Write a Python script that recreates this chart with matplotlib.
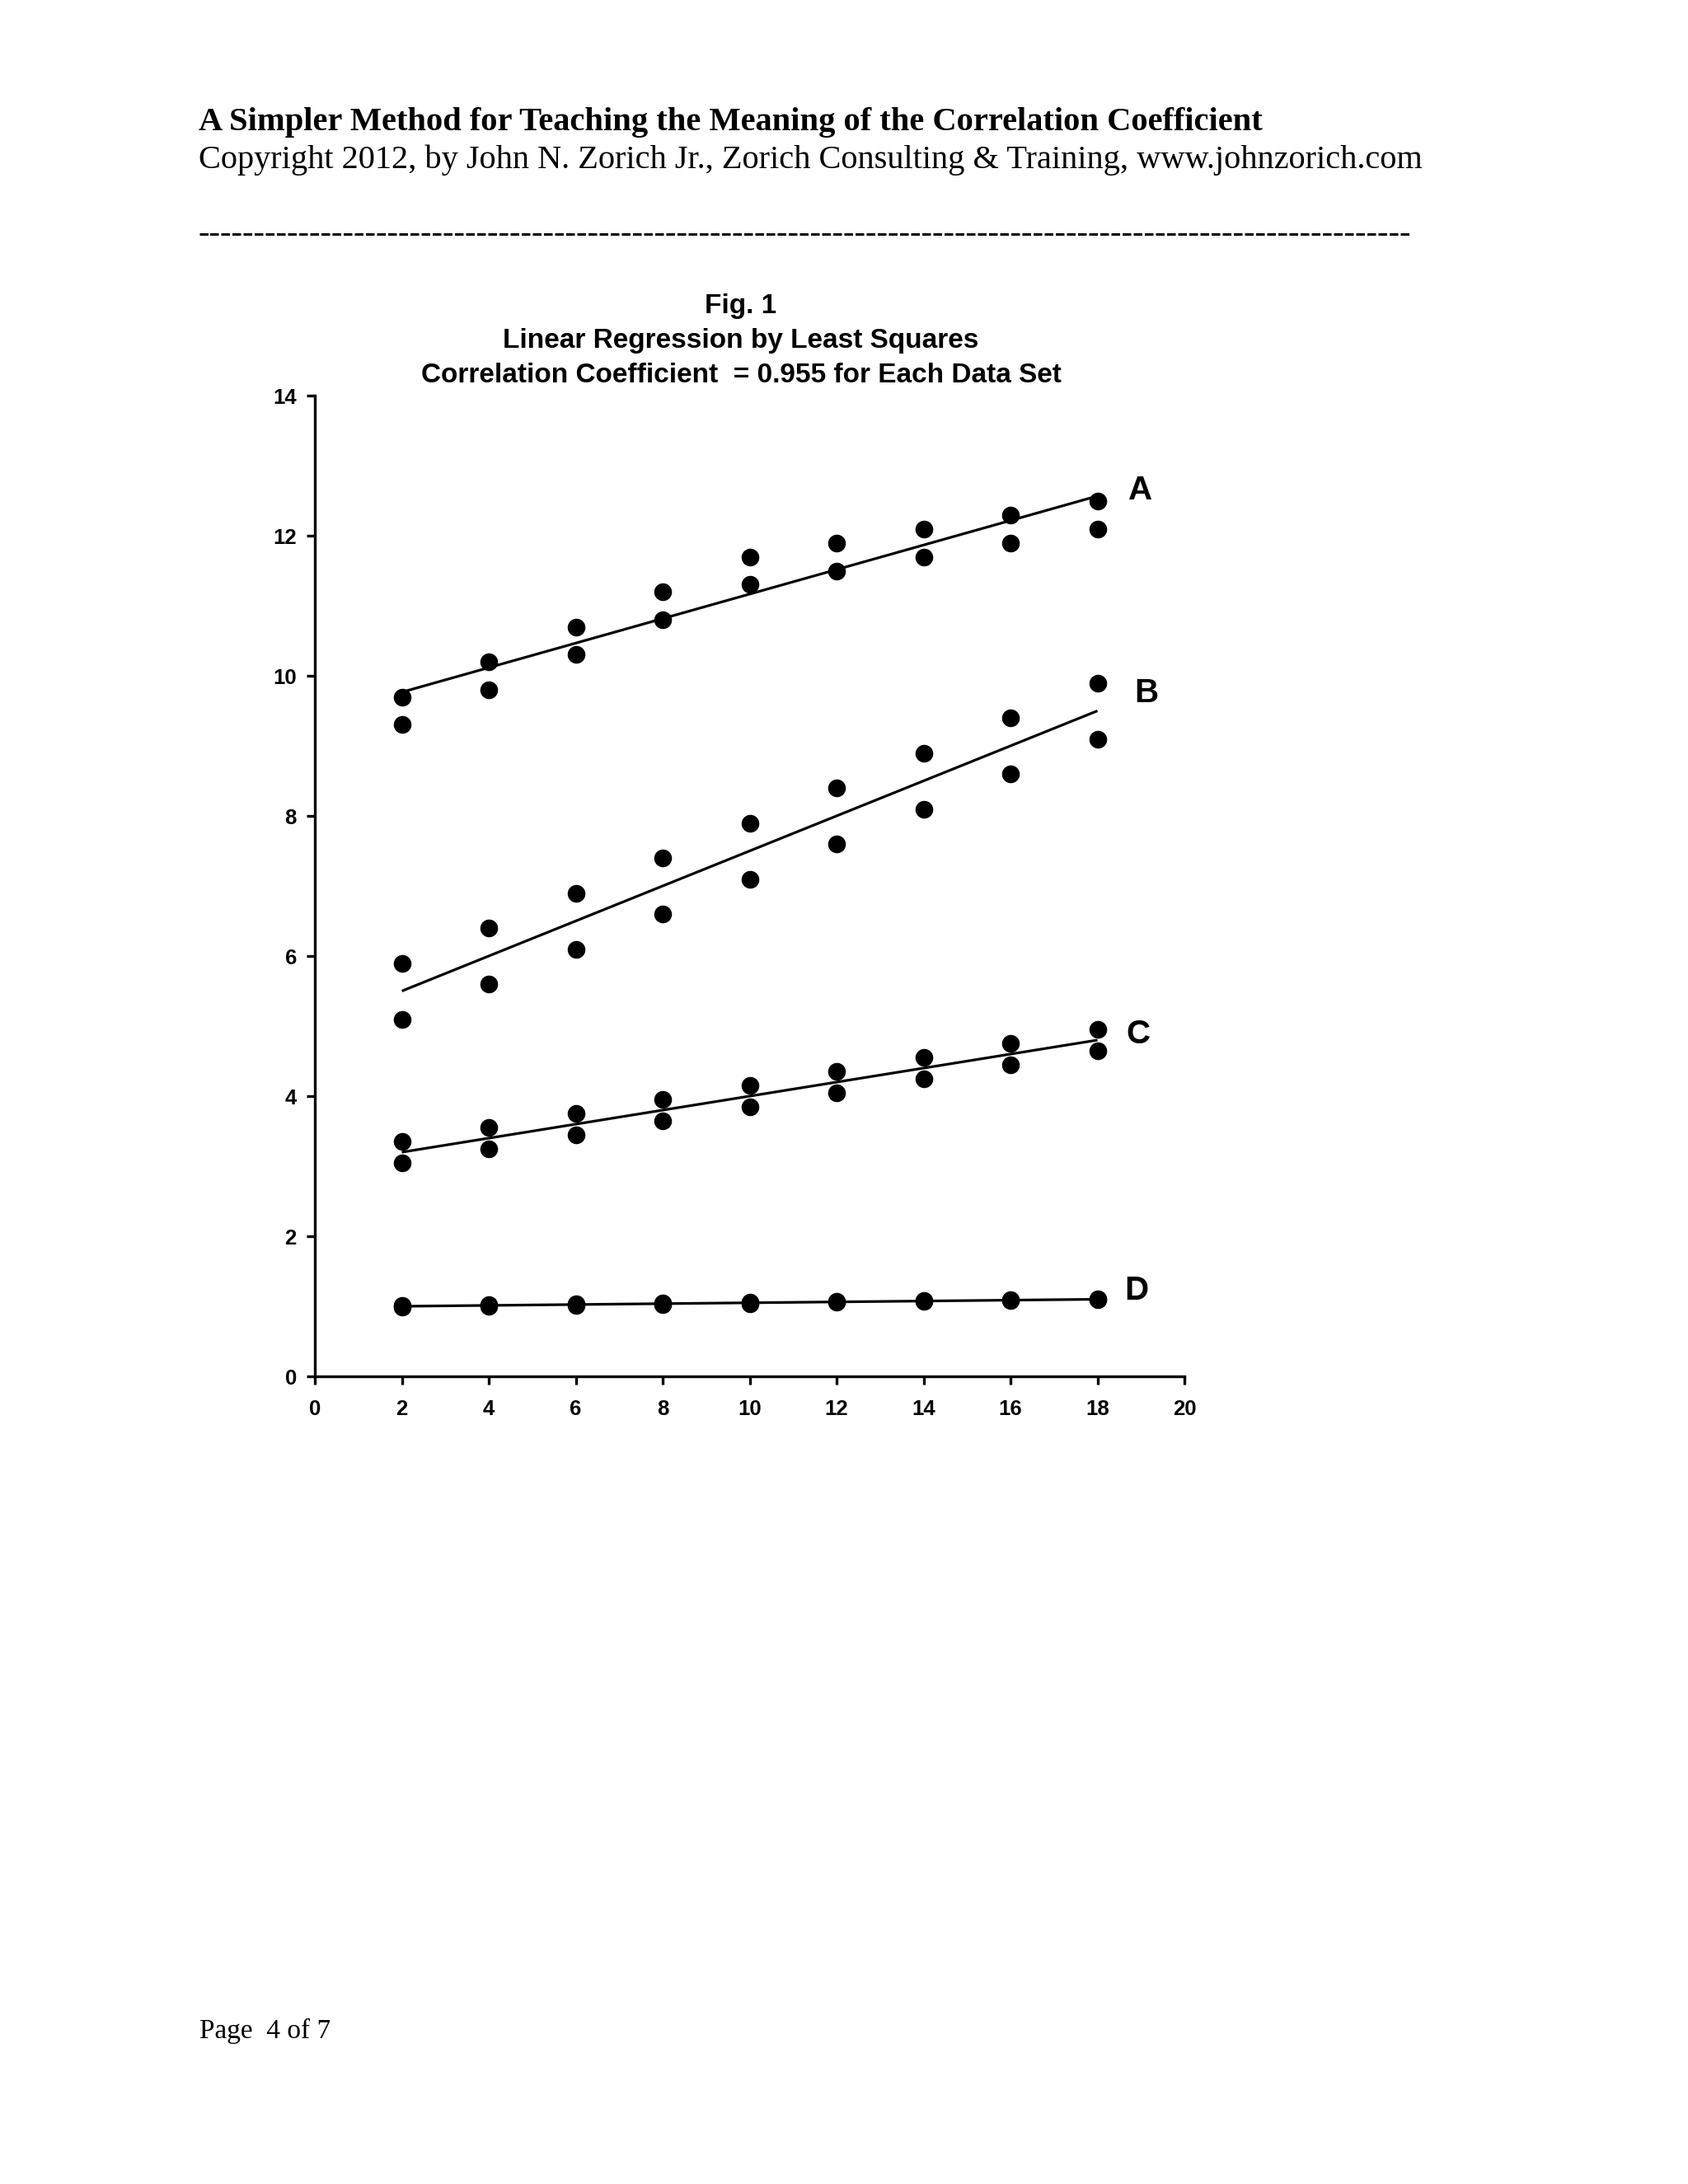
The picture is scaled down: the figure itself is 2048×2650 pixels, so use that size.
import numpy as np
import matplotlib
matplotlib.use("Agg")
import matplotlib.pyplot as plt

# ---- data ----
x_vals = [2, 4, 6, 8, 10, 12, 14, 16, 18]
A_high = [9.7, 10.2, 10.7, 11.2, 11.7, 11.9, 12.1, 12.3, 12.5]
A_low = [9.3, 9.8, 10.3, 10.8, 11.3, 11.5, 11.7, 11.9, 12.1]
B_high = [5.9, 6.4, 6.9, 7.4, 7.9, 8.4, 8.9, 9.4, 9.9]
B_low = [5.1, 5.6, 6.1, 6.6, 7.1, 7.6, 8.1, 8.6, 9.1]
C_high = [3.35, 3.55, 3.75, 3.95, 4.15, 4.35, 4.55, 4.75, 4.95]
C_low = [3.05, 3.25, 3.45, 3.65, 3.85, 4.05, 4.25, 4.45, 4.65]
D_high = [1.009, 1.022, 1.034, 1.047, 1.059, 1.072, 1.084, 1.097, 1.109]
D_low = [0.991, 1.003, 1.016, 1.028, 1.041, 1.053, 1.066, 1.078, 1.091]
set_names = ["A", "B", "C", "D"]
x_ticks = [0, 2, 4, 6, 8, 10, 12, 14, 16, 18, 20]
y_ticks = [0, 2, 4, 6, 8, 10, 12, 14]

W, H = 2048, 2650
fig = plt.figure(figsize=(W / 100, H / 100), dpi=100)
fig.patch.set_facecolor("white")

def fx(px):
    return px / W

def fy(py):
    return 1 - py / H

SERIF = ["Liberation Serif", "DejaVu Serif"]
SANS = ["Liberation Sans", "DejaVu Sans"]

# ---- page header ----
fig.text(fx(241), fy(158), "A Simpler Method for Teaching the Meaning of the Correlation Coefficient",
         family=SERIF, weight="bold", fontsize=29.2, ha="left", va="baseline")
fig.text(fx(241), fy(204), "Copyright 2012, by John N. Zorich Jr., Zorich Consulting & Training, www.johnzorich.com",
         family=SERIF, fontsize=29.1, ha="left", va="baseline")
fig.text(fx(241), fy(294), "-" * 109, family=SERIF, fontsize=29.2, ha="left", va="baseline")
fig.text(fx(242), fy(2473), "Page  4 of 7", family=SERIF, fontsize=24, ha="left", va="baseline")

# ---- chart titles ----
tx = fx(899)
fig.text(tx, fy(380), "Fig. 1", family=SANS, weight="bold", fontsize=24, ha="center", va="baseline")
fig.text(tx, fy(422), "Linear Regression by Least Squares", family=SANS, weight="bold", fontsize=24,
         ha="center", va="baseline")
fig.text(tx, fy(464), "Correlation Coefficient  = 0.955 for Each Data Set", family=SANS, weight="bold",
         fontsize=24, ha="center", va="baseline")

# ---- axes ----
left, right, bottom, top = 382, 1437, 1670, 480
ax = fig.add_axes([fx(left), fy(bottom), (right - left) / W, (bottom - top) / H])
ax.set_xlim(0, 20)
ax.set_ylim(0, 14)
ax.set_xticks(x_ticks)
ax.set_yticks(y_ticks)
ax.set_xticklabels([str(t) for t in x_ticks])
ax.set_yticklabels([str(t) for t in y_ticks])
for s in ["top", "right"]:
    ax.spines[s].set_visible(False)
for s in ["left", "bottom"]:
    ax.spines[s].set_linewidth(2.4)
    ax.spines[s].set_color("black")
ax.tick_params(direction="out", length=7, width=2.4, colors="black")
ax.tick_params(axis="x", pad=13)
ax.tick_params(axis="y", pad=9)
for lab in ax.get_xticklabels() + ax.get_yticklabels():
    lab.set_family(SANS)
    lab.set_weight("bold")
    lab.set_fontsize(18.5)
ax.patch.set_alpha(0)

xs = np.array(x_vals, dtype=float)
series = [(A_high, A_low), (B_high, B_low), (C_high, C_low), (D_high, D_low)]
label_pos = [(18.72, 12.65), (18.84, 9.75), (18.66, 4.88), (18.62, 1.22)]
for (hi, lo), name, (lx, ly) in zip(series, set_names, label_pos):
    allx = np.concatenate([xs, xs])
    ally = np.concatenate([np.array(hi), np.array(lo)])
    slope, icpt = np.polyfit(allx, ally, 1)
    ax.plot([xs[0], xs[-1]], [icpt + slope * xs[0], icpt + slope * xs[-1]],
            color="black", lw=2.3, zorder=2, solid_capstyle="butt")
    ax.plot(allx, ally, "o", color="black", markersize=15.5, markeredgewidth=0, zorder=3)
    ax.text(lx, ly, name, family=SANS, weight="bold", fontsize=29, ha="left", va="center")

fig.savefig("out.png", dpi=100, facecolor="white")
